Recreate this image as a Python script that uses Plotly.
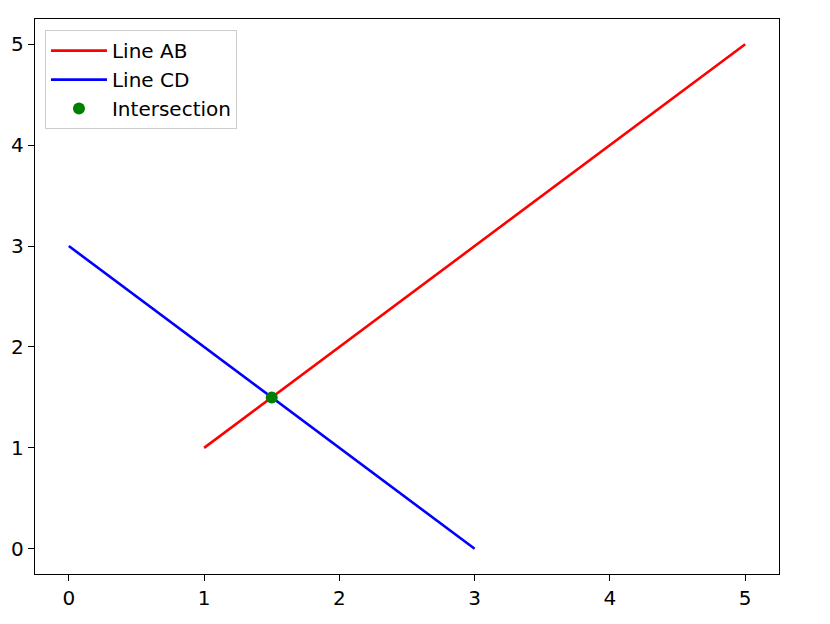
import plotly.graph_objects as go

# Endpoints of the two segments and their crossing point
ab_x = [1, 5]
ab_y = [1, 5]
cd_x = [0, 3]
cd_y = [3, 0]
hit_x = [1.5]
hit_y = [1.5]

tick_vals = [0, 1, 2, 3, 4, 5]

fig = go.Figure()
fig.add_trace(go.Scatter(x=ab_x, y=ab_y, mode="lines", name="Line AB",
                         line=dict(color="red", width=2.6)))
fig.add_trace(go.Scatter(x=cd_x, y=cd_y, mode="lines", name="Line CD",
                         line=dict(color="blue", width=2.6)))
fig.add_trace(go.Scatter(x=hit_x, y=hit_y, mode="markers", name="Intersection",
                         marker=dict(color="green", size=12)))

axis_style = dict(
    showgrid=False, zeroline=False, automargin=False,
    showline=True, linecolor="black", linewidth=1.3, mirror=True,
    ticks="outside", ticklen=6, tickwidth=1.3, tickcolor="black",
    tickvals=tick_vals, tickfont=dict(color="black", size=20),
)

fig.update_xaxes(range=[-0.25, 5.25], **axis_style)
fig.update_yaxes(range=[-0.25, 5.25], **axis_style)

# page body adds ~7px offset, so margins are shifted to compensate
fig.update_layout(
    width=830, height=624,
    margin=dict(l=27, r=59, t=11, b=58),
    plot_bgcolor="white", paper_bgcolor="white",
    font=dict(family="DejaVu Sans", size=20, color="black"),
    legend=dict(x=0.0134, y=0.98, xanchor="left", yanchor="top",
                bgcolor="white", bordercolor="#cccccc", borderwidth=1,
                font=dict(size=20), tracegroupgap=0, itemwidth=56),
    showlegend=True,
)

fig.write_html("out.html")
